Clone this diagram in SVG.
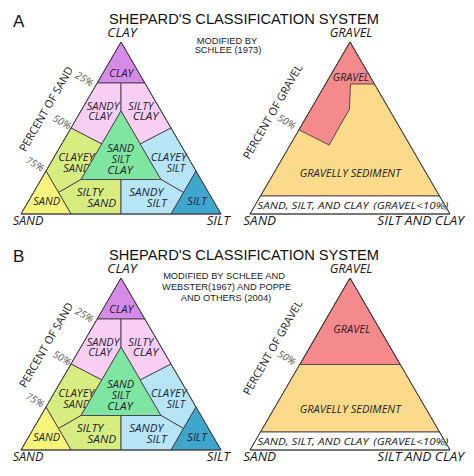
<svg xmlns="http://www.w3.org/2000/svg" width="474" height="476" viewBox="0 0 474 476">
<style>
.bg{fill:#ffffff}
.r{stroke:#4a3a4a;stroke-width:0.9;stroke-linejoin:round}
.purple{fill:#d78be9}.pink{fill:#f8cff3}.yg{fill:#d8ed80}.yel{fill:#f6f47a}.grn{fill:#7ee6a0}.lb{fill:#b6e6f6}.blu{fill:#3fa6cd}.red{fill:#f48a8c}.grav{fill:#fbdb8b}.wht{fill:#ffffff}
.outline{fill:none;stroke:#444;stroke-width:1}
.ttl{font-family:"Liberation Sans",Arial,sans-serif;font-size:14.5px;fill:#111;text-anchor:middle}
.big{font-family:"Liberation Sans",Arial,sans-serif;font-size:17px;fill:#111}
.cap{font-family:"Liberation Sans",Arial,sans-serif;font-size:9.3px;fill:#222;text-anchor:middle}
.lab{font-family:"Open Sans","Noto Sans",sans-serif;font-style:italic;font-size:11px;fill:#261d33;text-anchor:middle}
.ax{font-family:"Open Sans","Noto Sans",sans-serif;font-style:italic;font-size:12px;fill:#1a1a1a;text-anchor:middle}
.sm{font-family:"Open Sans","Noto Sans",sans-serif;font-style:italic;font-size:10px;fill:#2a1d24;text-anchor:middle}
.band{font-family:"Open Sans","Noto Sans",sans-serif;font-style:italic;font-size:9.5px;fill:#222}
.pct{font-family:"Open Sans","Noto Sans",sans-serif;font-style:italic;font-size:10px;fill:#555;text-anchor:middle}
.per{font-family:"Open Sans","Noto Sans",sans-serif;font-size:11px;fill:#1a1a1a;text-anchor:middle}
</style>
<rect class="bg" x="0" y="0" width="474" height="476"/>

<!-- ===== Panel A ===== -->
<g id="panelA">
<text class="big" x="13" y="26.7">A</text>
<text class="ttl" x="244" y="24" textLength="270" lengthAdjust="spacingAndGlyphs">SHEPARD'S CLASSIFICATION SYSTEM</text>
<g id="A-caption">
<text class="cap" x="227" y="44">MODIFIED BY</text>
<text class="cap" x="228" y="53.3">SCHLEE (1973)</text>
</g>

<g id="A-sand-triangle">
<g id="A-clay"><polygon class="purple r" points="121,42 97.2,83 144.8,83"/><text class="lab" x="121.2" y="76.5" textLength="24.3" lengthAdjust="spacingAndGlyphs">CLAY</text></g>
<g id="A-sandy-clay"><polygon class="pink r" points="97.2,83 121,83 121,111 101.8,144 71,128"/><text class="lab" x="103" y="110.4" textLength="32.7" lengthAdjust="spacingAndGlyphs">SANDY</text><text class="lab" x="100" y="120" textLength="23.3" lengthAdjust="spacingAndGlyphs">CLAY</text></g>
<g id="A-silty-clay"><polygon class="pink r" points="121,83 144.8,83 171,128 140.2,144 121,111"/><text class="lab" x="140.8" y="110.4" textLength="25" lengthAdjust="spacingAndGlyphs">SILTY</text><text class="lab" x="145.5" y="120" textLength="25.7" lengthAdjust="spacingAndGlyphs">CLAY</text></g>
<g id="A-clayey-sand"><polygon class="yg r" points="71,128 101.8,144 81,179.5 58.5,192.5 46,171"/><text class="lab" x="76.3" y="161" textLength="36" lengthAdjust="spacingAndGlyphs">CLAYEY</text><text class="lab" x="76.7" y="171.7" textLength="26.7" lengthAdjust="spacingAndGlyphs">SAND</text></g>
<g id="A-silty-sand"><polygon class="yg r" points="58.5,192.5 81,179.5 121,179.5 121,214 71,214"/><text class="lab" x="90" y="196" textLength="26.7" lengthAdjust="spacingAndGlyphs">SILTY</text><text class="lab" x="101.7" y="207" textLength="28.7" lengthAdjust="spacingAndGlyphs">SAND</text></g>
<g id="A-sand"><polygon class="yel r" points="21,214 46,171 71,214"/><text class="lab" x="46.7" y="205" textLength="26.7" lengthAdjust="spacingAndGlyphs">SAND</text></g>
<g id="A-sand-silt-clay"><polygon class="grn r" points="121,111 81,179.5 161,179.5"/><text class="lab" x="120.7" y="151.5" textLength="26.7" lengthAdjust="spacingAndGlyphs">SAND</text><text class="lab" x="120.8" y="163" textLength="18.3" lengthAdjust="spacingAndGlyphs">SILT</text><text class="lab" x="120" y="174" textLength="25.3" lengthAdjust="spacingAndGlyphs">CLAY</text></g>
<g id="A-clayey-silt"><polygon class="lb r" points="171,128 196,171 183.5,192.5 161,179.5 140.2,144"/><text class="lab" x="168.7" y="161" textLength="36" lengthAdjust="spacingAndGlyphs">CLAYEY</text><text class="lab" x="175.8" y="172" textLength="18.3" lengthAdjust="spacingAndGlyphs">SILT</text></g>
<g id="A-sandy-silt"><polygon class="lb r" points="121,179.5 161,179.5 183.5,192.5 171,214 121,214"/><text class="lab" x="146.3" y="196" textLength="34" lengthAdjust="spacingAndGlyphs">SANDY</text><text class="lab" x="156.7" y="207" textLength="20" lengthAdjust="spacingAndGlyphs">SILT</text></g>
<g id="A-silt"><polygon class="blu r" points="221,214 196,171 171,214"/><text class="lab" x="197" y="205" textLength="19.3" lengthAdjust="spacingAndGlyphs">SILT</text></g>
<polygon class="outline" points="121,42 21,214 221,214"/>
<text class="ax" x="122" y="36.5" textLength="29.3" lengthAdjust="spacingAndGlyphs">CLAY</text>
<text class="ax" x="28" y="225" textLength="30.7" lengthAdjust="spacingAndGlyphs">SAND</text>
<text class="ax" x="218.3" y="225" textLength="23.3" lengthAdjust="spacingAndGlyphs">SILT</text>
<text class="per" transform="translate(49.5,111) rotate(-60)">PERCENT OF SAND</text>
<text class="pct" transform="translate(82.7,82) rotate(30)">25%</text>
<text class="pct" transform="translate(60.3,125) rotate(30)">50%</text>
<text class="pct" transform="translate(33.3,167) rotate(30)">75%</text>
</g>

<g id="A-gravel-triangle">
<g id="A-gravelly-sediment"><polygon class="grav r" points="350,42 260.5,196 439.5,196"/><text class="sm" x="350.2" y="177.3" textLength="101" lengthAdjust="spacingAndGlyphs">GRAVELLY SEDIMENT</text></g>
<g id="A-gravel"><polygon class="red r" points="350,42 299,129.8 329,145 349.5,109 350.5,84 374.4,84"/><text class="sm" style="font-size:11px" x="350.8" y="80.7" textLength="36.3" lengthAdjust="spacingAndGlyphs">GRAVEL</text></g>
<g id="A-band"><polygon class="wht r" points="260.5,196 439.5,196 450,214 250,214"/><text class="band" x="257.3" y="209.3" textLength="111" lengthAdjust="spacingAndGlyphs">SAND, SILT, AND CLAY</text><text class="band" x="373.3" y="209.3" textLength="75" lengthAdjust="spacingAndGlyphs">(GRAVEL&lt;10%)</text></g>
<polygon class="outline" points="350,42 250,214 450,214"/>
<text class="ax" x="351" y="36.5" textLength="42.7" lengthAdjust="spacingAndGlyphs">GRAVEL</text>
<text class="ax" x="259.7" y="225" textLength="32.7" lengthAdjust="spacingAndGlyphs">SAND</text>
<text class="ax" x="420.7" y="225" textLength="86.7" lengthAdjust="spacingAndGlyphs">SILT AND CLAY</text>
<text class="per" transform="translate(276,113.7) rotate(-60)">PERCENT OF GRAVEL</text>
<text class="pct" transform="translate(285,124.7) rotate(30)">50%</text>
</g>
</g>

<!-- ===== Panel B ===== -->
<g id="panelB">
<text class="big" x="13" y="262">B</text>
<text class="ttl" x="244" y="260" textLength="270" lengthAdjust="spacingAndGlyphs">SHEPARD'S CLASSIFICATION SYSTEM</text>
<g id="B-caption">
<text class="cap" x="224" y="278.8">MODIFIED BY SCHLEE AND</text>
<text class="cap" x="226.7" y="290.1">WEBSTER(1967) AND POPPE</text>
<text class="cap" x="226" y="301.3">AND OTHERS (2004)</text>
</g>

<g id="B-sand-triangle" transform="translate(0,236)">
<g id="B-clay"><polygon class="purple r" points="121,42 97.2,83 144.8,83"/><text class="lab" x="121.2" y="76.5" textLength="24.3" lengthAdjust="spacingAndGlyphs">CLAY</text></g>
<g id="B-sandy-clay"><polygon class="pink r" points="97.2,83 121,83 121,111 101.8,144 71,128"/><text class="lab" x="103" y="110.4" textLength="32.7" lengthAdjust="spacingAndGlyphs">SANDY</text><text class="lab" x="100" y="120" textLength="23.3" lengthAdjust="spacingAndGlyphs">CLAY</text></g>
<g id="B-silty-clay"><polygon class="pink r" points="121,83 144.8,83 171,128 140.2,144 121,111"/><text class="lab" x="140.8" y="110.4" textLength="25" lengthAdjust="spacingAndGlyphs">SILTY</text><text class="lab" x="145.5" y="120" textLength="25.7" lengthAdjust="spacingAndGlyphs">CLAY</text></g>
<g id="B-clayey-sand"><polygon class="yg r" points="71,128 101.8,144 81,179.5 58.5,192.5 46,171"/><text class="lab" x="76.3" y="161" textLength="36" lengthAdjust="spacingAndGlyphs">CLAYEY</text><text class="lab" x="76.7" y="171.7" textLength="26.7" lengthAdjust="spacingAndGlyphs">SAND</text></g>
<g id="B-silty-sand"><polygon class="yg r" points="58.5,192.5 81,179.5 121,179.5 121,214 71,214"/><text class="lab" x="90" y="196" textLength="26.7" lengthAdjust="spacingAndGlyphs">SILTY</text><text class="lab" x="101.7" y="207" textLength="28.7" lengthAdjust="spacingAndGlyphs">SAND</text></g>
<g id="B-sand"><polygon class="yel r" points="21,214 46,171 71,214"/><text class="lab" x="46.7" y="205" textLength="26.7" lengthAdjust="spacingAndGlyphs">SAND</text></g>
<g id="B-sand-silt-clay"><polygon class="grn r" points="121,111 81,179.5 161,179.5"/><text class="lab" x="120.7" y="151.5" textLength="26.7" lengthAdjust="spacingAndGlyphs">SAND</text><text class="lab" x="120.8" y="163" textLength="18.3" lengthAdjust="spacingAndGlyphs">SILT</text><text class="lab" x="120" y="174" textLength="25.3" lengthAdjust="spacingAndGlyphs">CLAY</text></g>
<g id="B-clayey-silt"><polygon class="lb r" points="171,128 196,171 183.5,192.5 161,179.5 140.2,144"/><text class="lab" x="168.7" y="161" textLength="36" lengthAdjust="spacingAndGlyphs">CLAYEY</text><text class="lab" x="175.8" y="172" textLength="18.3" lengthAdjust="spacingAndGlyphs">SILT</text></g>
<g id="B-sandy-silt"><polygon class="lb r" points="121,179.5 161,179.5 183.5,192.5 171,214 121,214"/><text class="lab" x="146.3" y="196" textLength="34" lengthAdjust="spacingAndGlyphs">SANDY</text><text class="lab" x="156.7" y="207" textLength="20" lengthAdjust="spacingAndGlyphs">SILT</text></g>
<g id="B-silt"><polygon class="blu r" points="221,214 196,171 171,214"/><text class="lab" x="197" y="205" textLength="19.3" lengthAdjust="spacingAndGlyphs">SILT</text></g>
<polygon class="outline" points="121,42 21,214 221,214"/>
<text class="ax" x="122" y="36.5" textLength="29.3" lengthAdjust="spacingAndGlyphs">CLAY</text>
<text class="ax" x="28" y="225" textLength="30.7" lengthAdjust="spacingAndGlyphs">SAND</text>
<text class="ax" x="218.3" y="225" textLength="23.3" lengthAdjust="spacingAndGlyphs">SILT</text>
<text class="per" transform="translate(49.5,111) rotate(-60)">PERCENT OF SAND</text>
<text class="pct" transform="translate(82.7,82) rotate(30)">25%</text>
<text class="pct" transform="translate(60.3,125) rotate(30)">50%</text>
<text class="pct" transform="translate(33.3,167) rotate(30)">75%</text>
</g>

<g id="B-gravel-triangle" transform="translate(0,236)">
<g id="B-gravelly-sediment"><polygon class="grav r" points="350,42 260.5,196 439.5,196"/><text class="sm" x="350.2" y="177" textLength="101" lengthAdjust="spacingAndGlyphs">GRAVELLY SEDIMENT</text></g>
<g id="B-gravel"><polygon class="red r" points="350,42 300,128.5 400,128.5"/><text class="sm" style="font-size:11px" x="351.7" y="96.7" textLength="37" lengthAdjust="spacingAndGlyphs">GRAVEL</text></g>
<g id="B-band"><polygon class="wht r" points="260.5,196 439.5,196 450,214 250,214"/><text class="band" x="257.3" y="209.3" textLength="111" lengthAdjust="spacingAndGlyphs">SAND, SILT, AND CLAY</text><text class="band" x="373.3" y="209.3" textLength="75" lengthAdjust="spacingAndGlyphs">(GRAVEL&lt;10%)</text></g>
<polygon class="outline" points="350,42 250,214 450,214"/>
<text class="ax" x="351" y="36.5" textLength="42.7" lengthAdjust="spacingAndGlyphs">GRAVEL</text>
<text class="ax" x="259.7" y="225" textLength="32.7" lengthAdjust="spacingAndGlyphs">SAND</text>
<text class="ax" x="420.7" y="225" textLength="86.7" lengthAdjust="spacingAndGlyphs">SILT AND CLAY</text>
<text class="per" transform="translate(276,113.7) rotate(-60)">PERCENT OF GRAVEL</text>
<text class="pct" transform="translate(285,124.7) rotate(30)">50%</text>
</g>
</g>
<g id="connectors"/>
</svg>
